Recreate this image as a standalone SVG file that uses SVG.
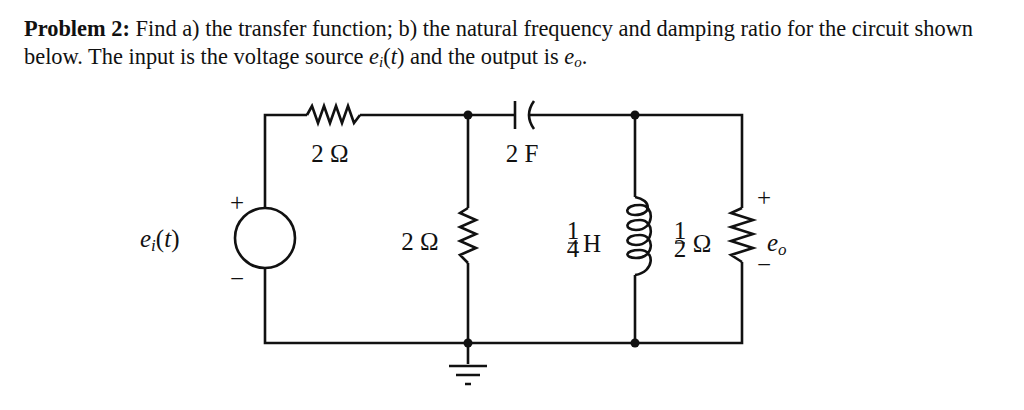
<svg xmlns="http://www.w3.org/2000/svg" width="1024" height="410" viewBox="0 0 1024 410">
<style>
.w{fill:none;stroke:#111;stroke-width:2.6;stroke-linejoin:miter}
.t{font-family:"Liberation Serif",serif;fill:#111}
.c{font-family:"Liberation Serif",serif;fill:#111;font-size:25px}
.d{fill:#111}
</style>
<rect width="1024" height="410" fill="#fff"/>
<text class="t" x="24" y="36" font-size="22.4"><tspan font-weight="bold">Problem 2:</tspan> Find a) the transfer function; b) the natural frequency and damping ratio for the circuit shown</text>
<text class="t" x="24" y="64" font-size="22.4">below. The input is the voltage source <tspan font-style="italic">e</tspan><tspan font-style="italic" font-size="15" dy="3">i</tspan><tspan dy="-3">(</tspan><tspan font-style="italic">t</tspan>) and the output is <tspan font-style="italic">e</tspan><tspan font-style="italic" font-size="15" dy="3">o</tspan><tspan dy="-3">.</tspan></text>
<g id="connectors">
<path class="w" d="M265 208 V115 H307 M360 115 H515 M530 115 H742 V208 M742 262 V343 H265 V268"/>
<path class="w" d="M468 115 V208 M468 263 V343 V364"/>
<path class="w" d="M635 115 V197 M635 275 V343"/>
</g>
<g id="source"><circle class="w" cx="265" cy="238" r="30"/>
<text class="c" x="237" y="211" text-anchor="middle" font-size="22">+</text>
<text class="c" x="237" y="287" text-anchor="middle" font-size="22">−</text>
<text class="c" x="140" y="247" font-style="italic">e<tspan font-size="17" dy="4">i</tspan><tspan dy="-4" font-style="normal">(</tspan>t<tspan font-style="normal">)</tspan></text></g>
<g id="r1"><path class="w" d="M307 115 L312 106 L318 123 L324 106 L330 123 L336 106 L342 123 L348 106 L354 123 L360 115"/>
<text class="c" x="330" y="162" text-anchor="middle">2 Ω</text></g>
<g id="r2"><path class="w" d="M468 208 L460 213 L476 220 L460 227 L476 234 L460 241 L476 248 L460 255 L468 263"/>
<text class="c" x="420" y="250" text-anchor="middle">2 Ω</text></g>
<g id="cap"><path class="w" d="M515 101 V129 M534 101 Q524 115 534 129"/>
<text class="c" x="522" y="162" text-anchor="middle">2 F</text></g>
<g id="ind"><path class="w" d="M635 197 C652 200 652 215 635 215 C624 215 624 205 640 205 C655 205 655 230 636 230 C624 230 624 220 640 220 C655 220 655 245 636 245 C624 245 624 235 640 235 C655 235 655 258 636 258 C624 258 624 250 640 250 C655 250 655 272 635 275"/>
<text class="c" x="573" y="239" text-anchor="middle" font-size="13">1</text><path d="M568 243 H578" stroke="#111" stroke-width="1.2"/><text class="c" x="573" y="257" text-anchor="middle" font-size="13">4</text>
<text class="c" x="592" y="252" text-anchor="middle">H</text></g>
<g id="r3"><path class="w" d="M742 208 L731 213 L753 220 L731 227 L753 234 L731 241 L753 248 L731 255 L742 262"/>
<text class="c" x="680" y="239" text-anchor="middle" font-size="13">1</text><path d="M675 243 H685" stroke="#111" stroke-width="1.2"/><text class="c" x="680" y="257" text-anchor="middle" font-size="13">2</text>
<text class="c" x="702" y="252" text-anchor="middle">Ω</text>
<text class="c" x="764" y="206" text-anchor="middle" font-size="22">+</text>
<text class="c" x="764" y="273" text-anchor="middle" font-size="22">−</text>
<text class="c" x="767" y="251" font-style="italic">e<tspan font-size="17" dy="4">o</tspan></text></g>
<g id="nodes"><circle class="d" cx="468" cy="115" r="4.5"/><circle class="d" cx="635" cy="115" r="4.5"/><circle class="d" cx="468" cy="343" r="4.5"/><circle class="d" cx="635" cy="343" r="4.5"/></g>
<g id="ground"><path class="w" d="M449 366 H487 M456 375 H480 M465 384 H471"/></g>
</svg>
